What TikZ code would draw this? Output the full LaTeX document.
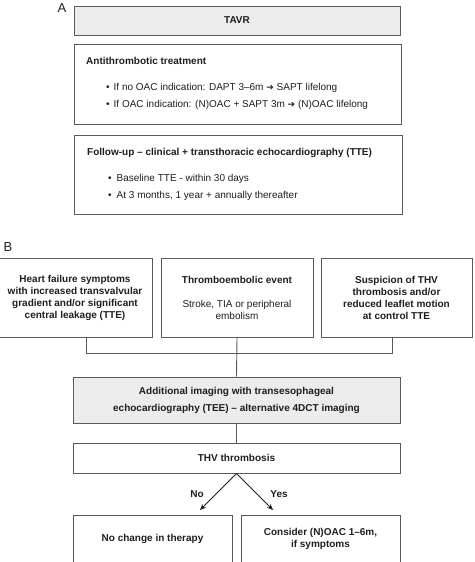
\documentclass[tikz,border=0pt]{standalone}
\usepackage{fontspec}
\setmainfont{Liberation Sans}
\newfontfamily\dejavu{DejaVu Sans}
\usetikzlibrary{arrows.meta}
\definecolor{edgec}{HTML}{5A5A5A}
\definecolor{boxfill}{HTML}{ECECEC}
\definecolor{txt}{HTML}{1E1E1E}
\tikzset{
  box/.style={draw=edgec, line width=0.9pt, inner sep=0pt, align=center, text=txt},
  lbl/.style={inner sep=0pt, text=txt, anchor=west},
  conn/.style={draw=edgec, line width=0.9pt},
  arr/.style={draw=txt, line width=0.8pt, -{Stealth[length=6pt,width=5pt]}},
  panel/.style={inner sep=0pt, text=txt, font=\fontsize{13}{15}\selectfont},
}
\newcommand{\hvarrow}{{\dejavu\fontsize{9}{10}\selectfont ➔}}
\begin{document}
\begin{tikzpicture}[x=1pt,y=-1pt, font=\fontsize{10}{12}\selectfont]
\useasboundingbox (0,0) rectangle (474,562);
\clip (0,0) rectangle (474,562);
% Panel A
\node[panel] (labA) at (62,8) {A};
\node[box, fill=boxfill, minimum width=326pt, minimum height=29pt, font=\fontsize{10}{12}\selectfont\bfseries] (tavr) at (237,20.5) {TAVR};

\node[box, minimum width=327pt, minimum height=80pt] (anti) at (237.5,84) {};
\node[lbl, font=\fontsize{10}{12}\selectfont\bfseries] (antiT) at (86,61) {Antithrombotic treatment};
\node[lbl] (antiB1) at (106,88) {\textbullet\hspace{4pt}If no OAC indication: DAPT 3–6m \hvarrow{} SAPT lifelong};
\node[lbl] (antiB2) at (106,105) {\textbullet\hspace{4pt}If OAC indication: (N)OAC + SAPT 3m \hvarrow{} (N)OAC lifelong};

\node[box, minimum width=328pt, minimum height=79pt] (fu) at (238,174.5) {};
\node[lbl, font=\fontsize{10}{12}\selectfont\bfseries] (fuT) at (87,153) {Follow-up – clinical + transthoracic echocardiography (TTE)};
\node[lbl] (fuB1) at (108,179) {\textbullet\hspace{5pt}Baseline TTE - within 30 days};
\node[lbl] (fuB2) at (108,196) {\textbullet\hspace{5pt}At 3 months, 1 year + annually thereafter};

% Panel B
\node[panel] (labB) at (8,247) {B};
\node[box, minimum width=154pt, minimum height=79pt, font=\fontsize{10}{12}\selectfont\bfseries] (b1) at (75,297.5)
  {Heart failure symptoms\\with increased transvalvular\\gradient and/or significant\\central leakage (TTE)};
\node[box, minimum width=152pt, minimum height=79pt] (b2) at (237,297.5)
  {\textbf{Thromboembolic event}\\[12pt]Stroke, TIA or peripheral\\embolism};
\node[box, minimum width=151pt, minimum height=79pt, font=\fontsize{10}{12}\selectfont\bfseries] (b3) at (396.5,297.5)
  {Suspicion of THV\\thrombosis and/or\\reduced leaflet motion\\at control TTE};

\node[box, fill=boxfill, minimum width=327pt, minimum height=46pt, font=\fontsize{10}{12}\selectfont\bfseries] (tee) at (236.5,400)
  {Additional imaging with transesophageal\\[5pt]echocardiography (TEE) – alternative 4DCT imaging};
\node[box, minimum width=327pt, minimum height=30pt, font=\fontsize{10}{12}\selectfont\bfseries] (thv) at (236.5,458) {THV thrombosis};

\node[box, minimum width=159pt, minimum height=48pt, font=\fontsize{10}{12}\selectfont\bfseries] (nochg) at (152.5,539) {No change in therapy};
\node[box, minimum width=159pt, minimum height=48pt, font=\fontsize{10}{12}\selectfont\bfseries] (cons) at (320.5,539) {Consider (N)OAC 1–6m,\\if symptoms};

% connectors
\coordinate (j1) at (86,353);
\coordinate (j3) at (392,353);
\draw[conn] (b1.south -| j1) -- (j1) -- (j3) -- (b3.south -| j3);
\draw[conn] (b2.south) -- (tee.north);
\draw[conn] (tee.south) -- (thv.north);
\coordinate (eNo) at (200,510);
\coordinate (eYes) at (273,510);
\draw[arr] (thv.south) -- (eNo);
\draw[arr] (thv.south) -- (eYes);
\node[inner sep=0pt, text=txt, font=\fontsize{10}{12}\selectfont\bfseries] (lNo) at (197,494) {No};
\node[inner sep=0pt, text=txt, font=\fontsize{10}{12}\selectfont\bfseries] (lYes) at (279,494) {Yes};
\end{tikzpicture}
\end{document}
